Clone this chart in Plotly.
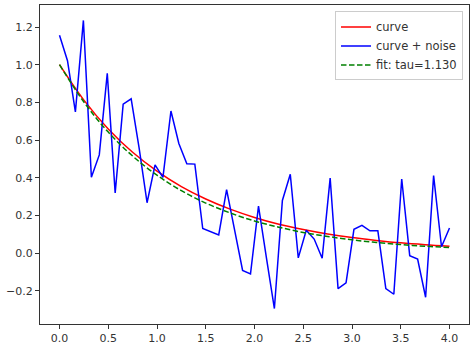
import plotly.graph_objects as go

# x positions of the noisy samples (50 points from 0 to 4)
x_noise = [0.0, 0.082, 0.163, 0.245, 0.327, 0.408, 0.490, 0.571, 0.653, 0.735,
           0.816, 0.898, 0.980, 1.061, 1.143, 1.224, 1.306, 1.388, 1.469, 1.551,
           1.633, 1.714, 1.796, 1.878, 1.959, 2.041, 2.122, 2.204, 2.286, 2.367,
           2.449, 2.531, 2.612, 2.694, 2.776, 2.857, 2.939, 3.020, 3.102, 3.184,
           3.265, 3.347, 3.429, 3.510, 3.592, 3.673, 3.755, 3.837, 3.918, 4.0]
y_noise = [1.156, 1.021, 0.749, 1.235, 0.402, 0.521, 0.954, 0.319, 0.790, 0.819,
           0.56, 0.267, 0.468, 0.402, 0.754, 0.582, 0.474, 0.472, 0.130, 0.114,
           0.096, 0.337, 0.125, -0.093, -0.111, 0.249, -0.025, -0.295, 0.279, 0.418,
           -0.026, 0.121, 0.074, -0.028, 0.398, -0.189, -0.158, 0.126, 0.147, 0.118,
           0.118, -0.189, -0.219, 0.393, -0.014, -0.032, -0.235, 0.411, 0.033, 0.133]

# smooth curves read at 0.25 steps
x_smooth = [0.0, 0.25, 0.5, 0.75, 1.0, 1.25, 1.5, 1.75, 2.0, 2.25, 2.5, 2.75,
            3.0, 3.25, 3.5, 3.75, 4.0]
y_curve = [1.000, 0.812, 0.659, 0.535, 0.435, 0.353, 0.287, 0.233, 0.189, 0.153,
           0.125, 0.101, 0.082, 0.067, 0.054, 0.044, 0.036]
y_fit = [1.000, 0.802, 0.642, 0.515, 0.413, 0.331, 0.265, 0.213, 0.170, 0.137,
         0.109, 0.088, 0.070, 0.056, 0.045, 0.036, 0.029]

x_ticks = [0.0, 0.5, 1.0, 1.5, 2.0, 2.5, 3.0, 3.5, 4.0]
y_ticks = [-0.2, 0.0, 0.2, 0.4, 0.6, 0.8, 1.0, 1.2]

fig = go.Figure()
fig.add_trace(go.Scatter(x=x_smooth, y=y_curve, mode="lines", name="curve",
                         line=dict(color="#ff0000", width=1.5, shape="spline")))
fig.add_trace(go.Scatter(x=x_noise, y=y_noise, mode="lines", name="curve + noise",
                         line=dict(color="#0000ff", width=1.5)))
fig.add_trace(go.Scatter(x=x_smooth, y=y_fit, mode="lines", name="fit: tau=1.130",
                         line=dict(color="#008000", width=1.5, shape="spline",
                                   dash="5.5px,2.5px")))

axis_common = dict(showgrid=False, zeroline=False, showline=True, mirror=True,
                   linecolor="#333333", linewidth=1, ticks="outside", ticklen=4,
                   tickcolor="#333333", tickwidth=1,
                   tickfont=dict(family="DejaVu Sans", size=11, color="#333333"),
                   tickformat=".1f")

fig.update_layout(
    width=474, height=350,
    margin=dict(l=40, r=4.5, t=4.5, b=25.5),
    paper_bgcolor="white", plot_bgcolor="white",
    xaxis=dict(range=[-0.2, 4.2], tickvals=x_ticks, **axis_common),
    yaxis=dict(range=[-0.377, 1.317], tickvals=y_ticks, **axis_common),
    legend=dict(x=0.986, y=0.98, xanchor="right", yanchor="top",
                bgcolor="rgba(255,255,255,0.8)", bordercolor="#cccccc", borderwidth=1,
                font=dict(family="DejaVu Sans", size=11.5, color="#333333"),
                itemwidth=30, tracegroupgap=0),
    showlegend=True,
)

fig.write_html("out.html")
